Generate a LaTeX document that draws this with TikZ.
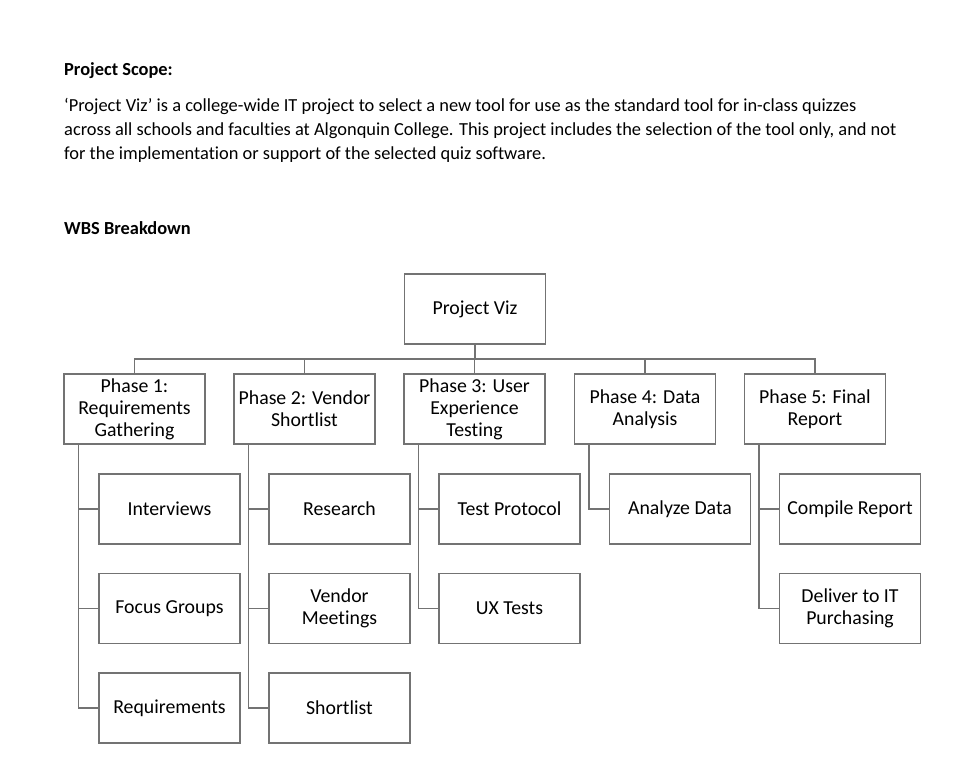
\documentclass[tikz,border=0pt]{standalone}
\usepackage{fontspec}
\setmainfont{Carlito}[Ligatures=NoCommon]
\begin{document}
\begin{tikzpicture}[x=1pt,y=-1pt,
  box/.style={draw=black!55,line width=1.3pt,minimum width=141pt,minimum height=70pt,align=center,inner sep=2pt,font=\fontsize{19.8}{22}\selectfont},
  con/.style={draw=black!55,line width=1.3pt},
  txt/.style={anchor=base west,inner sep=0,font=\fontsize{18.4}{22}\selectfont}]
\useasboundingbox (0,0) rectangle (957,783);
\node[txt] (t1) at (64,76) {\bfseries Project Scope:};
\node[txt] (p1) at (64,112) {‘Project Viz’ is a college-wide IT project to select a new tool for use as the standard tool for in-class quizzes};
\node[txt] (p2) at (64,136) {across all schools and faculties at Algonquin College. This project includes the selection of the tool only, and not};
\node[txt] (p3) at (64,160) {for the implementation or support of the selected quiz software.};
\node[txt] (t2) at (64,235) {\bfseries WBS Breakdown};
\node[box] (root) at (475,309) {Project Viz};
\node[box] (a) at (134.5,409) {Phase 1:\\Requirements\\Gathering};
\node[box] (b) at (304.5,409) {Phase 2: Vendor\\Shortlist};
\node[box] (c) at (474.5,409) {Phase 3: User\\Experience\\Testing};
\node[box] (d) at (645,409) {Phase 4: Data\\Analysis};
\node[box] (e) at (815,409) {Phase 5: Final\\Report};
\foreach \n/\x/\y/\t in {a1/169.5/509/Interviews,a2/169.5/608.5/Focus Groups,a3/169.5/708/Requirements,
  b1/339.5/509/Research,b2/339.5/608.5/{Vendor\\Meetings},b3/339.5/708/Shortlist,
  c1/509.5/509/Test Protocol,c2/509.5/608.5/UX Tests,
  d1/680/509/Analyze Data,
  e1/850/509/Compile Report,e2/850/608.5/{Deliver to IT\\Purchasing}}
  \node[box] (\n) at (\x,\y) {\t};
\coordinate (bus) at (475,359);
\draw[con] (root.south) -- (bus);
\foreach \p in {a,b,c,d,e} \draw[con] (\p.north) |- (bus);
\foreach \p/\cs in {a/{a1,a2,a3},b/{b1,b2,b3},c/{c1,c2},d/{d1},e/{e1,e2}}
  \foreach \ch in \cs \draw[con] ([xshift=15pt]\p.south west) |- (\ch.west);
\end{tikzpicture}
\end{document}
